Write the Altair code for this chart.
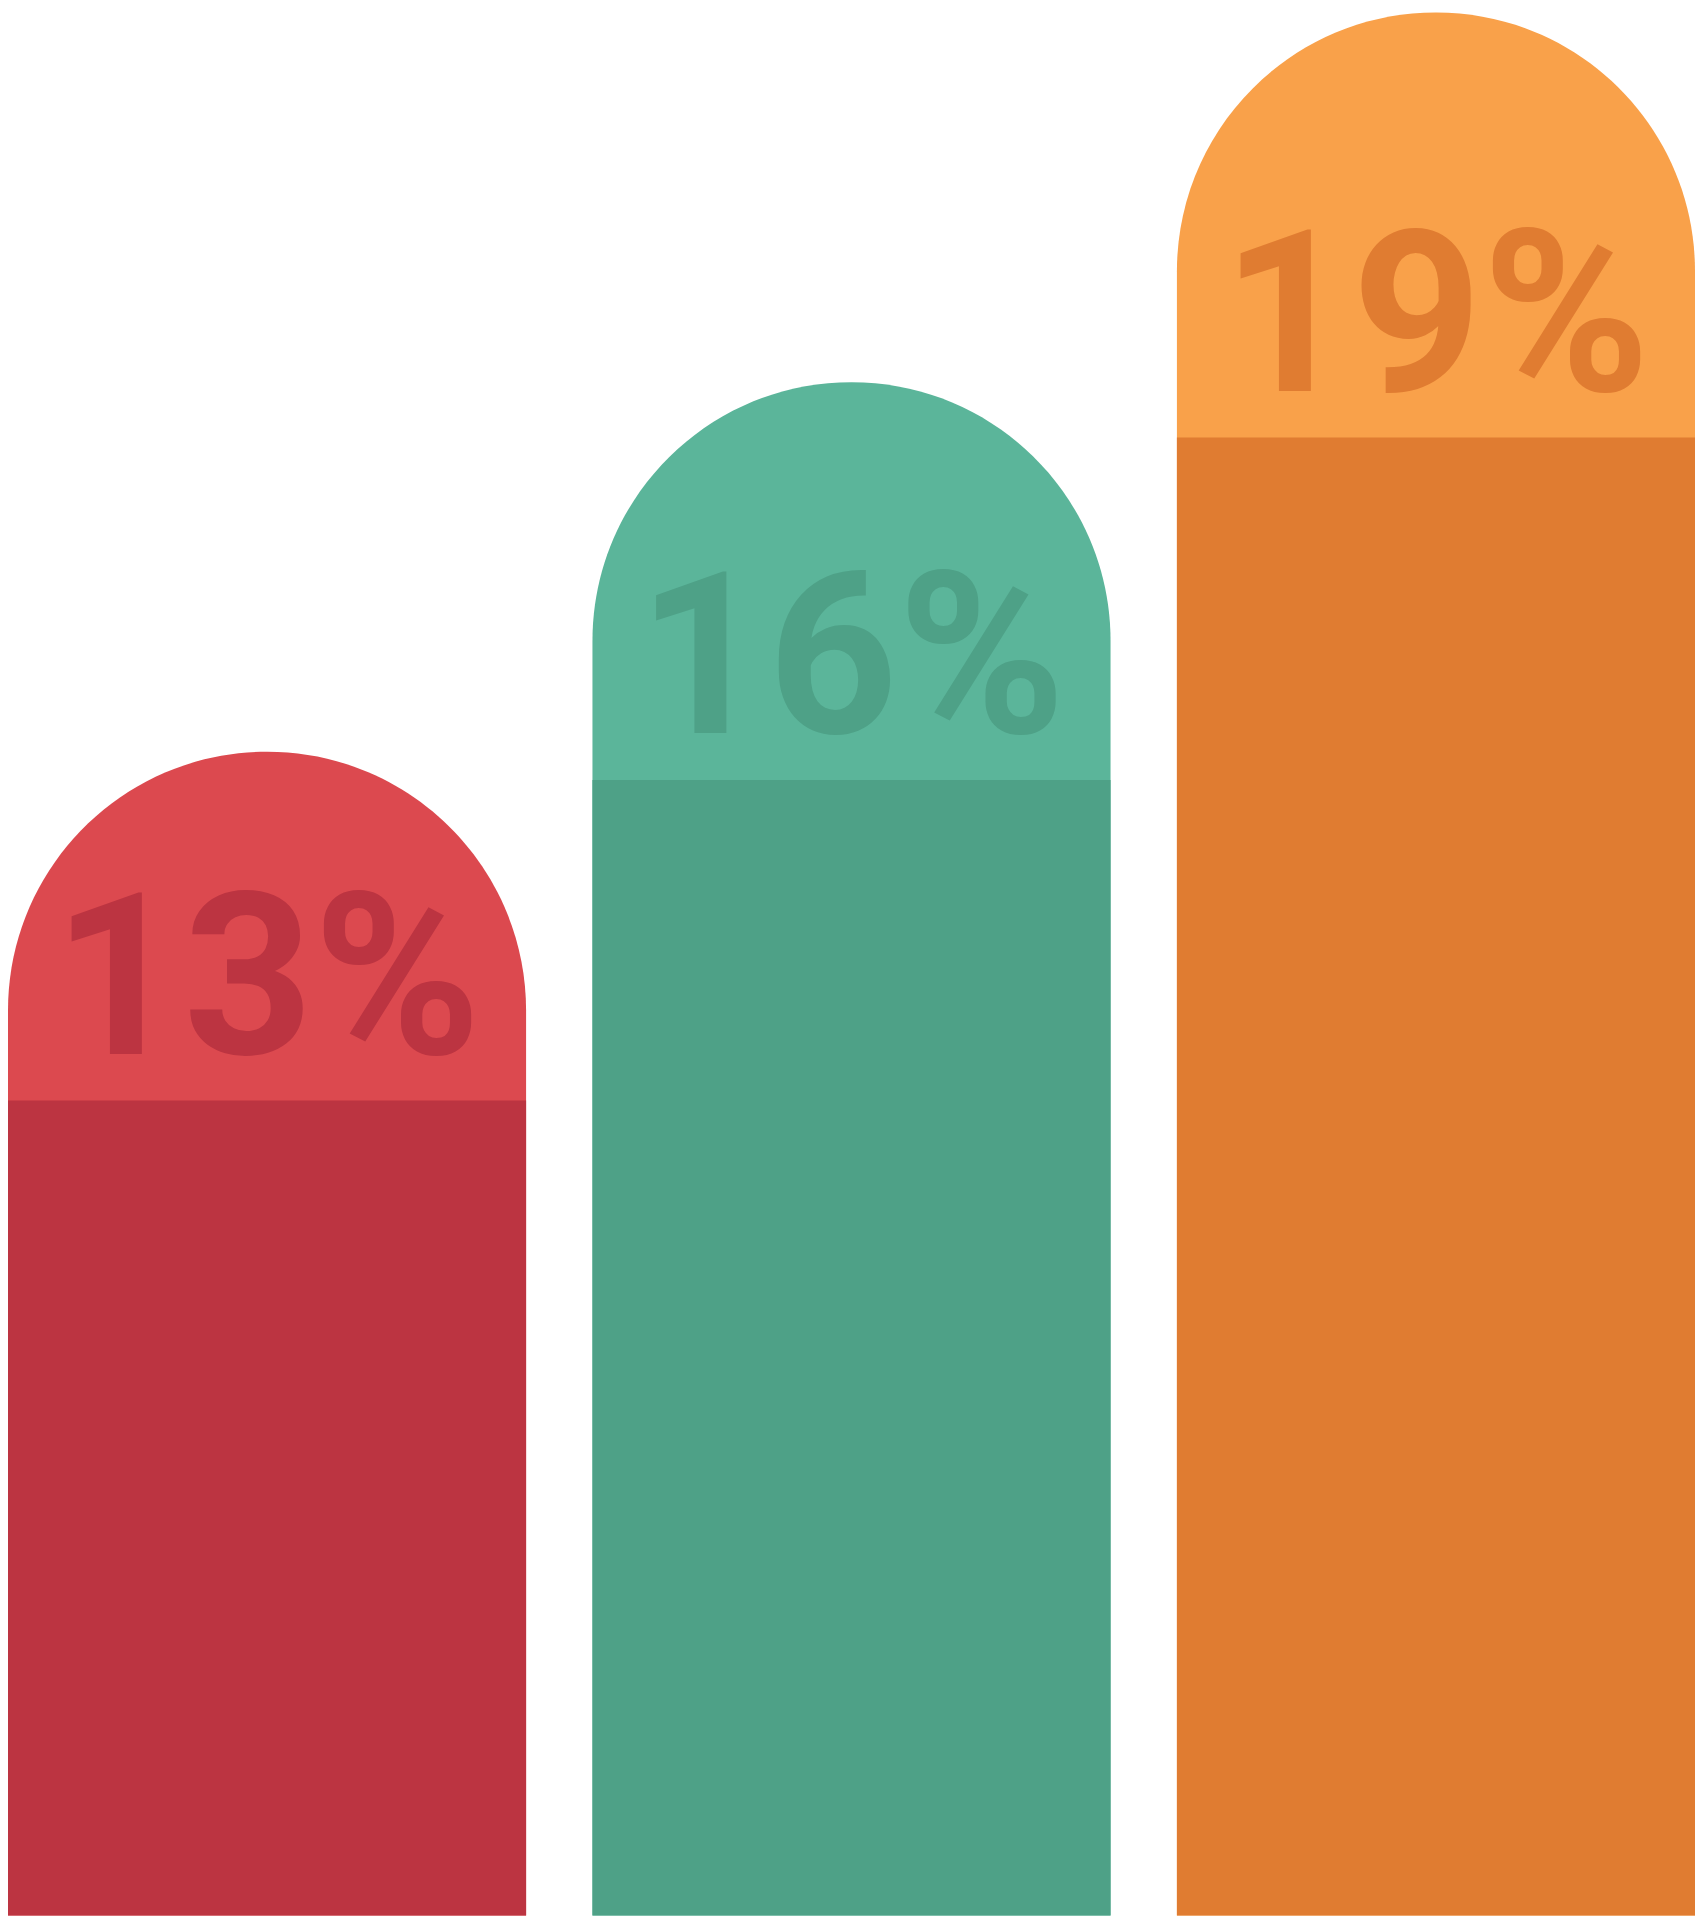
"""Three rounded-top bars with percentage labels in the cap."""
import altair as alt
import pandas as pd

# data
categories = ["A", "B", "C"]
values = [13, 16, 19]
labels = ["13%", "16%", "19%"]
cap_start = [10.17, 12.77, 15.55]  # value where the light cap begins
y_floor = 3.555

light_colors = ["#DC494F", "#5BB59A", "#F9A14A"]
dark_colors = ["#BC3441", "#4EA187", "#E07C31"]

df = pd.DataFrame(
    {
        "cat": categories,
        "value": values,
        "label": labels,
        "cap": cap_start,
        "floor": [y_floor] * len(categories),
    }
)

W, H = 1695, 1912
gap = 67 / 590

x = alt.X(
    "cat:N",
    axis=None,
    scale=alt.Scale(paddingInner=gap, paddingOuter=0),
)
y_scale = alt.Scale(domain=[y_floor, 19], nice=False, zero=False)

base = alt.Chart(df)

cap = base.mark_bar(
    cornerRadiusTopLeft=260, cornerRadiusTopRight=260
).encode(
    x=x,
    y=alt.Y("value:Q", axis=None, scale=y_scale),
    y2="floor:Q",
    color=alt.Color(
        "cat:N", legend=None, scale=alt.Scale(domain=categories, range=light_colors)
    ),
)

body = base.mark_bar().encode(
    x=x,
    y=alt.Y("cap:Q", axis=None, scale=y_scale),
    y2="floor:Q",
    color=alt.Color(
        "cat:N", legend=None, scale=alt.Scale(domain=categories, range=dark_colors)
    ),
)

text = base.mark_text(
    font="Roboto",
    fontWeight="bold",
    fontSize=228,
    baseline="alphabetic",
    align="center",
    dy=-47,
).encode(
    x=x,
    y=alt.Y("cap:Q", axis=None, scale=y_scale),
    text="label:N",
    color=alt.Color(
        "cat:N", legend=None, scale=alt.Scale(domain=categories, range=dark_colors)
    ),
)

chart = (
    alt.layer(cap, body, text)
    .resolve_scale(color="independent")
    .properties(width=W, height=H, padding=0)
    .configure_view(strokeWidth=0)
)

chart.save("out.html", embed_options={"renderer": "svg", "actions": False})
